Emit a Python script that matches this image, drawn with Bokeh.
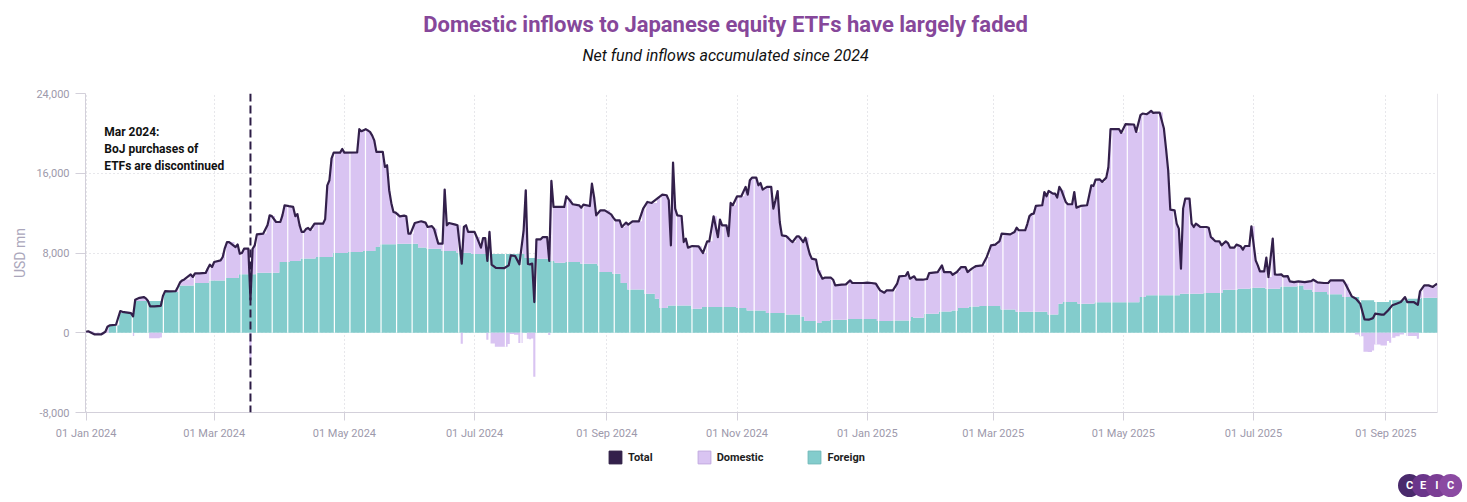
import numpy as np
from bokeh.plotting import figure
from bokeh.models import (Range1d, FixedTicker, NumeralTickFormatter, DatetimeTickFormatter,
                          Legend, LegendItem, Span, Label, Spacer)
from bokeh.layouts import column, row
from bokeh.embed import file_html
from bokeh.resources import INLINE
from bokeh.core.properties import value

# ---------------- data ----------------
start_date = "2024-01-01"          # day 0 of the day offsets below
last_day = 633                     # last plotted day (late Sep 2025)

# Total net inflows accumulated since 2024 (USD mn), at day offsets from start_date
total_days = [0, 1, 4, 7, 9, 10, 11, 14, 16, 17, 21, 22, 23, 25, 27, 28, 29, 30, 32, 35,
              36, 37, 39, 42, 43, 44, 45, 46, 49, 50, 51, 53, 56, 57, 58, 59, 60, 63, 64, 65,
              66, 67, 70, 71, 72, 73, 74, 76, 77, 78, 79, 80, 83, 85, 86, 87, 89, 91, 92, 93,
              95, 97, 98, 99, 100, 101, 102, 103, 104, 105, 107, 111, 112, 113, 114, 115, 116, 119, 120, 121,
              127, 128, 129, 131, 133, 134, 135, 136, 139, 140, 141, 142, 143, 144, 145, 147, 149, 150, 151, 152,
              154, 157, 159, 160, 162, 163, 165, 167, 168, 169, 170, 173, 174, 176, 177, 178, 179, 182, 183, 185,
              186, 187, 188, 189, 190, 192, 196, 198, 199, 201, 203, 205, 206, 207, 208, 209, 210, 211, 213, 214,
              216, 217, 218, 219, 224, 225, 226, 228, 231, 232, 233, 236, 237, 238, 239, 241, 243, 246, 247, 248,
              250, 251, 253, 254, 256, 259, 261, 263, 265, 268, 270, 272, 273, 274, 275, 276, 277, 279, 280, 281,
              282, 284, 287, 289, 291, 292, 294, 296, 297, 298, 300, 301, 302, 303, 305, 307, 309, 310, 311, 312,
              314, 315, 316, 317, 319, 321, 322, 323, 324, 325, 326, 328, 330, 331, 333, 334, 336, 337, 339, 340,
              342, 343, 345, 346, 349, 350, 351, 354, 356, 358, 359, 364, 366, 368, 370, 372, 374, 375, 378, 380,
              381, 384, 385, 386, 388, 389, 392, 394, 395, 399, 401, 402, 405, 406, 408, 410, 412, 413, 415, 417,
              420, 422, 424, 426, 428, 429, 433, 435, 436, 437, 440, 441, 442, 443, 444, 445, 448, 449, 450, 451,
              453, 454, 455, 456, 457, 459, 460, 462, 463, 464, 466, 469, 470, 471, 472, 473, 475, 476, 478, 479,
              480, 484, 485, 487, 491, 492, 494, 495, 497, 498, 499, 500, 501, 503, 505, 506, 507, 508, 510, 511,
              512, 513, 514, 515, 517, 518, 519, 520, 522, 525, 526, 527, 529, 531, 532, 534, 535, 536, 538, 539,
              541, 542, 543, 545, 546, 548, 549, 550, 552, 553, 554, 556, 557, 558, 560, 561, 563, 564, 566, 568,
              571, 574, 575, 577, 580, 582, 583, 589, 590, 592, 593, 595, 597, 599, 601, 603, 604, 607, 608, 610,
              612, 614, 616, 618, 619, 622, 624, 625, 627, 629, 631, 633]
total_usd_mn = [100, 150, -170, -170, 100, 600, 740, 800, 2180, 2100, 1975, 1640, 3310, 3500, 3580, 3450, 3180, 2640, 2640, 2700,
                3700, 4180, 4150, 4180, 4600, 5050, 5250, 5350, 5850, 5600, 5960, 5960, 6000, 6450, 6830, 6600, 7100, 7260, 7600, 8500,
                9100, 9100, 8600, 8850, 7930, 8000, 8430, 8430, 3310, 8430, 8770, 9870, 9950, 10800, 11780, 11700, 11110, 11110, 11800, 12790,
                12700, 12620, 11700, 11900, 10800, 10110, 10110, 10400, 10510, 10300, 10940, 10940, 11400, 14790, 15300, 17500, 18070, 18070, 18440, 18070,
                18100, 20420, 20220, 20420, 20150, 19800, 19300, 18140, 18140, 16630, 16800, 14300, 13000, 12120, 12050, 11680, 11750, 11680, 9940, 9940,
                11010, 11180, 11050, 10610, 10700, 10440, 8940, 8940, 14360, 10780, 11010, 10850, 10780, 6930, 10610, 10780, 10110, 10110, 9610, 8540,
                9500, 9500, 7200, 10110, 6830, 6500, 6490, 6760, 7770, 7700, 6860, 10280, 14290, 6900, 6860, 6930, 3080, 9370, 9370, 9600,
                9600, 7200, 15230, 12620, 12620, 13690, 13450, 12890, 12780, 12550, 12850, 12710, 14960, 13620, 11780, 12280, 12280, 11880, 11550, 11280,
                11280, 10610, 11050, 10850, 11180, 11180, 12450, 13120, 13020, 13520, 13860, 13790, 13300, 8770, 17070, 12450, 11780, 11710, 9100, 9440,
                8540, 8700, 8670, 8000, 9170, 9170, 11680, 9600, 11350, 10780, 10780, 9700, 13020, 12790, 13690, 13690, 14630, 13860, 15300, 15560,
                15560, 14790, 15020, 14360, 14630, 14630, 12450, 13290, 14220, 11110, 9770, 9700, 9270, 9100, 9670, 9670, 9100, 9540, 7930, 7430,
                7330, 6260, 5420, 5520, 5520, 5320, 4750, 4820, 4850, 5250, 4990, 4990, 5020, 4990, 4920, 4250, 4020, 4250, 4250, 4920,
                5660, 5720, 6090, 5420, 5660, 5320, 5320, 5390, 5990, 6090, 6760, 6090, 6090, 5820, 6090, 6590, 6590, 6090, 6430, 6690,
                6760, 7600, 8770, 8840, 9200, 9940, 9870, 10110, 10540, 10280, 10280, 10900, 11700, 11900, 11950, 12720, 12790, 14120, 13690, 14220,
                13960, 13960, 13560, 14630, 14290, 13120, 12890, 12890, 14120, 12550, 12720, 12790, 13790, 14790, 14720, 15360, 15390, 15130, 15560, 16630,
                20420, 20420, 20050, 20920, 20890, 20150, 21820, 21990, 21920, 22090, 22260, 22060, 22090, 22090, 20480, 18470, 16300, 12350, 12280, 10940,
                10440, 6430, 12450, 13450, 13450, 10940, 10610, 10940, 10610, 10610, 10540, 9610, 9200, 9170, 8770, 9170, 9000, 8540, 8540, 8840,
                8670, 8330, 8700, 8700, 10680, 7260, 6760, 6160, 6160, 7530, 5590, 9440, 5860, 5820, 5860, 5660, 5690, 5150, 5080, 5150,
                5080, 5180, 5320, 5050, 4990, 4990, 5250, 5250, 4920, 4080, 3650, 3410, 2910, 1340, 1310, 1470, 1910, 1810, 1810, 2240,
                2750, 2910, 3080, 3580, 3080, 3080, 2810, 4150, 4750, 4750, 4590, 4920]

# Foreign net inflows accumulated (USD mn): level from each day offset onwards
foreign_days = [0, 11, 16, 23, 37, 44, 51, 58, 66, 72, 80, 91, 96, 101, 108, 116, 123, 130, 136, 138,
                146, 156, 160, 167, 174, 181, 206, 211, 218, 220, 225, 232, 240, 241, 247, 251, 254, 262, 267, 269,
                273, 284, 289, 305, 310, 319, 328, 335, 337, 343, 345, 349, 357, 371, 378, 387, 388, 393, 400, 406,
                409, 414, 419, 429, 436, 451, 456, 458, 465, 473, 494, 497, 513, 524, 533, 540, 546, 553, 560, 568,
                571, 575, 582, 589, 597, 604, 611, 619, 626]
foreign_usd_mn = [0, 740, 1975, 3180, 4080, 4750, 4990, 5250, 5490, 5860, 6020, 7100, 7200, 7440, 7600, 8000, 8100, 8200, 8600, 8870,
                  8940, 8540, 8430, 8200, 8030, 7900, 7500, 7430, 7200, 7030, 7100, 6930, 6750, 6090, 5920, 4990, 4350, 3920, 3410, 2480,
                  2740, 2410, 2580, 2480, 2240, 1970, 1840, 1640, 1170, 970, 1170, 1300, 1370, 1170, 1240, 1570, 1500, 1910, 2140, 2240,
                  2480, 2640, 2680, 2340, 2110, 1840, 2910, 3080, 2910, 3050, 3580, 3750, 3920, 3980, 4320, 4420, 4520, 4420, 4650, 4750,
                  4350, 4080, 3850, 3580, 3250, 3080, 3250, 3410, 3510]

series_names = ["Total", "Domestic", "Foreign"]
event_date = "2024-03-18"
event_note = "Mar 2024:\nBoJ purchases of\nETFs are discontinued"
x_tick_dates = ["2024-01-01", "2024-03-01", "2024-05-01", "2024-07-01", "2024-09-01", "2024-11-01",
                "2025-01-01", "2025-03-01", "2025-05-01", "2025-07-01", "2025-09-01"]
y_ticks = [-8000, 0, 8000, 16000, 24000]
y_min, y_max = -8000, 24000

title_text = "Domestic inflows to Japanese equity ETFs have largely faded"
subtitle_text = "Net fund inflows accumulated since 2024"
y_label = "USD mn"

# ---------------- styles ----------------
C_TOTAL = "#33204b"
C_DOM = "#d9c4f2"
C_FOR = "#83cccc"
C_TITLE = "#86479a"
C_AXIS_TXT = "#9d99ab"
C_AXIS_LINE = "#d3d0da"
FONT = "Roboto"
DAY_MS = 86400000.0
GAP_PERIOD = 7.285   # spacing of the thin white gaps between columns (days)
GAP_PHASE = -0.24
W = 1467
FRAME_L, FRAME_R = 85, 30
TITLE_H, PLOT_H, LEGEND_H, LOGO_H = 70, 372, 28, 32

# ---------------- derived arrays ----------------
t0 = float(np.datetime64(start_date, "ms").astype(np.int64))


def to_ms(d):
    return t0 + np.asarray(d, dtype=float) * DAY_MS


tdays = np.asarray(total_days, dtype=float)
tvals = np.asarray(total_usd_mn, dtype=float)
fdays = np.asarray(foreign_days, dtype=float)
fvals = np.asarray(foreign_usd_mn, dtype=float)

grid = np.unique(np.concatenate([tdays, fdays]))
T = tvals[np.searchsorted(tdays, grid, side="right") - 1]
F = fvals[np.searchsorted(fdays, grid, side="right") - 1]
D = T - F   # domestic = total - foreign

left = grid - 0.5
right = np.append(grid[1:] - 0.5, last_day + 0.5)
xs_step = to_ms(np.column_stack([left, right]).ravel())


def rep(a):
    return np.repeat(a, 2)


dom_pos = np.maximum(D, 0)
dom_neg = np.minimum(D, 0)

x_start, x_end = float(to_ms(-0.3)), float(to_ms(last_day + 0.2))


def bare_figure(width, height, xr, yr):
    f = figure(width=width, height=height, x_range=Range1d(*xr), y_range=Range1d(*yr),
               toolbar_location=None, output_backend="svg", min_border=0,
               x_axis_location=None, y_axis_location=None)
    f.outline_line_color = None
    f.grid.visible = False
    f.border_fill_color = "white"
    return f


# ---------------- title block (frame is aligned with the chart frame: 85..1437 px) ----------------
tf = bare_figure(W, TITLE_H, (FRAME_L, W - FRAME_R), (0, TITLE_H))
tf.add_layout(Label(x=725, y=TITLE_H - 24, text=title_text, text_font=FONT, text_font_size="22px",
                    text_font_style="bold", text_color=C_TITLE, text_align="center",
                    text_baseline="middle"))
tf.add_layout(Label(x=725, y=TITLE_H - 55, text=subtitle_text, text_font=FONT, text_font_size="16px",
                    text_font_style="italic", text_color="#111111", text_align="center",
                    text_baseline="middle"))

# ---------------- main chart ----------------
p = figure(width=W, height=PLOT_H, output_backend="svg", toolbar_location=None,
           x_axis_type="datetime",
           x_range=Range1d(x_start, x_end),
           y_range=Range1d(y_min, y_max),
           min_border_left=FRAME_L, min_border_right=FRAME_R, min_border_top=93 - TITLE_H,
           min_border_bottom=30)
p.outline_line_color = None
p.background_fill_color = "white"
p.border_fill_color = "white"

# stacked columns (foreign at bottom, domestic on top / negative below zero)
p.varea(x=xs_step, y1=np.zeros(len(xs_step)), y2=rep(F), fill_color=C_FOR)
p.varea(x=xs_step, y1=rep(F), y2=rep(F + dom_pos), fill_color=C_DOM)
p.varea(x=xs_step, y1=rep(dom_neg), y2=np.zeros(len(xs_step)), fill_color=C_DOM)

# thin white gaps between columns
gx = np.arange(GAP_PHASE, last_day + 0.5, GAP_PERIOD)
k = np.searchsorted(left, gx, side="right") - 1
ok = k >= 0
gx, k = gx[ok], k[ok]
g_bot = dom_neg[k]
g_top = F[k] + dom_pos[k]
sel = g_top > g_bot
p.segment(x0=to_ms(gx[sel]), y0=g_bot[sel], x1=to_ms(gx[sel]), y1=g_top[sel],
          line_color="white", line_width=1.2)

# total line
p.line(x=to_ms(tdays), y=tvals, line_color=C_TOTAL, line_width=2.2, line_join="round")

# right frame border
p.add_layout(Span(location=x_end, dimension="height", line_color=C_AXIS_LINE, line_width=1))

# event marker
ev_ms = float(np.datetime64(event_date, "ms").astype(np.int64))
p.add_layout(Span(location=ev_ms, dimension="height", line_color="#2c1c45",
                  line_width=2, line_dash="8 4"))
p.add_layout(Label(x=float(to_ms(8.5)), y=20800, text=event_note, text_font=FONT,
                   text_font_size="12px", text_font_style="bold", text_color="#111111",
                   text_baseline="top", text_align="left"))

# axes
xticks_ms = [float(np.datetime64(d, "ms").astype(np.int64)) for d in x_tick_dates]
xax = p.xaxis[0]
xax.ticker = FixedTicker(ticks=xticks_ms)
fmt = "%d %b %Y"
xax.formatter = DatetimeTickFormatter(milliseconds=fmt, seconds=fmt, minsec=fmt, minutes=fmt,
                                      hourmin=fmt, hours=fmt, days=fmt, months=fmt, years=fmt)
xax.major_label_text_font = FONT
xax.major_label_text_font_size = "11px"
xax.major_label_text_color = C_AXIS_TXT
xax.axis_line_color = C_AXIS_LINE
xax.major_tick_line_color = C_AXIS_LINE
xax.major_tick_out = 8
xax.major_tick_in = 0
xax.minor_tick_line_color = None
xax.major_label_standoff = 6

yax = p.yaxis[0]
yax.ticker = FixedTicker(ticks=y_ticks)
yax.formatter = NumeralTickFormatter(format="0,0")
yax.major_label_text_font = FONT
yax.major_label_text_font_size = "11px"
yax.major_label_text_color = C_AXIS_TXT
yax.axis_line_color = C_AXIS_LINE
yax.major_tick_line_color = C_AXIS_LINE
yax.major_tick_out = 10
yax.major_tick_in = 0
yax.minor_tick_line_color = None
yax.major_label_standoff = 6
yax.axis_label = y_label
yax.axis_label_text_font = FONT
yax.axis_label_text_font_size = "14px"
yax.axis_label_text_font_style = "normal"
yax.axis_label_text_color = "#aaa6bb"
yax.axis_label_standoff = 5

p.xgrid.ticker = FixedTicker(ticks=xticks_ms)
p.ygrid.ticker = FixedTicker(ticks=y_ticks)
for g in (p.xgrid[0], p.ygrid[0]):
    g.grid_line_color = "#cfcfd6"
    g.grid_line_dash = "1 3"
    g.grid_line_width = 1

# ---------------- legend strip (frame aligned with the chart frame) ----------------
lg = bare_figure(W, LEGEND_H, (0, 1), (0, 1))
sw_colors = [C_TOTAL, C_DOM, C_FOR]
sw_lines = ["#2a1a40", "#c2a9e0", "#6fb9b9"]
items = []
for name, c, lc in zip(series_names, sw_colors, sw_lines):
    r = lg.quad(left=[-2], right=[-2], top=[-2], bottom=[-2], fill_color=c, line_color=lc)
    items.append(LegendItem(label=name, renderers=[r]))
legend = Legend(items=items, orientation="horizontal", location=(522, 5),
                glyph_width=16, glyph_height=16, label_standoff=5, spacing=43,
                padding=2, margin=0, border_line_color=None, background_fill_alpha=0,
                label_text_font=FONT, label_text_font_size="11px",
                label_text_font_style="bold", label_text_color="#1e1e1e")
lg.add_layout(legend)

# ---------------- logo ----------------
logo_letters = ["C", "E", "I", "C"]
logo_colors = ["#4a2a6c", "#6b368b", "#7b3e94", "#8b4aa2"]
lf = bare_figure(72, LOGO_H, (0, 72), (0, LOGO_H))
lx = [14 + 13.7 * i for i in range(len(logo_letters))]
ly = [LOGO_H - 15] * len(logo_letters)
lf.circle(x=lx, y=ly, radius=11.5, fill_color=logo_colors, line_color=None)
lf.text(x=lx, y=ly, text=logo_letters, text_align="center", text_baseline="middle",
        text_color="white", text_font=value(FONT), text_font_size="11px", text_font_style="bold")

layout = column(tf, p, lg, row(Spacer(width=W - 72, height=LOGO_H), lf))

open("out.html", "w").write(file_html(layout, INLINE))
